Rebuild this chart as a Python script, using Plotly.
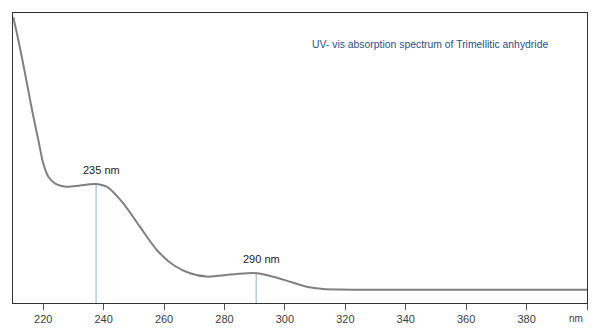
import plotly.graph_objects as go

# Data (wavelength in nm, absorbance arb. units)
wavelength = [210.1, 212.0, 214.2, 216.3, 218.6, 220.0, 221.7, 223.9, 226.1, 228.0,
              232.2, 237.1, 241.0, 246.5, 252.0, 257.6, 263.1, 268.6, 274.1, 278.5,
              284.0, 290.7, 296.2, 301.7, 307.2, 312.7, 318.0, 324.9, 340.0,
              360.0, 380.0, 400.0]
absorbance = [2.857, 2.597, 2.263, 1.930, 1.597, 1.397, 1.263, 1.197, 1.170, 1.163,
              1.175, 1.190, 1.163, 0.997, 0.763, 0.530, 0.380, 0.297, 0.264, 0.274,
              0.290, 0.298, 0.263, 0.213, 0.163, 0.140, 0.135, 0.133, 0.132,
              0.132, 0.132, 0.132]

peak_positions = [237.5, 290.5]
peak_heights = [1.19, 0.298]
peak_labels = ["235 nm", "290 nm"]

tick_values = [220, 240, 260, 280, 300, 320, 340, 360, 380, 400]
tick_labels = ["220", "240", "260", "280", "300", "320", "340", "360", "380", ""]

title_text = "UV- vis absorption spectrum of Trimellitic anhydride"
unit_text = "nm"

fig = go.Figure()

for xp, yp in zip(peak_positions, peak_heights):
    fig.add_trace(go.Scatter(x=[xp, xp], y=[0, yp], mode="lines",
                             line=dict(color="#9dbfe6", width=1.2),
                             hoverinfo="skip", showlegend=False))

fig.add_trace(go.Scatter(x=wavelength, y=absorbance, mode="lines",
                         line=dict(color="#808080", width=2, shape="spline", smoothing=0.8),
                         showlegend=False))

for xp, yp, lab in zip(peak_positions, peak_heights, peak_labels):
    fig.add_annotation(x=xp, y=yp, text=lab, showarrow=False,
                       xanchor="center", yanchor="bottom", xshift=5, yshift=6,
                       font=dict(family="Liberation Sans, Arial", size=11, color="#222222"))

fig.add_annotation(x=0.726, y=0.893, xref="paper", yref="paper", text=title_text,
                   showarrow=False, xanchor="center", yanchor="middle",
                   font=dict(family="Liberation Sans, Arial", size=10.4, color="#2a4f8a"))

fig.add_annotation(x=1.0, y=0, xref="paper", yref="paper", text=unit_text, showarrow=False,
                   xanchor="right", yanchor="top", xshift=-2, yshift=-8,
                   font=dict(family="Liberation Sans, Arial", size=10, color="#404040"))

fig.update_layout(
    width=600, height=331,
    margin=dict(l=13, r=13, t=13, b=28),
    paper_bgcolor="white", plot_bgcolor="white",
    xaxis=dict(range=[210, 400], tickvals=tick_values, ticktext=tick_labels,
               showgrid=False, zeroline=False, showline=True, linecolor="#333333",
               linewidth=1, mirror=True, ticks="outside", ticklen=6, tickcolor="#555555",
               automargin=False,
               tickfont=dict(family="Liberation Sans, Arial", size=11, color="#404040")),
    yaxis=dict(range=[0, 2.9], showticklabels=False, showgrid=False, zeroline=False,
               showline=True, linecolor="#333333", linewidth=1, mirror=True, ticks="",
               automargin=False),
)

fig.write_html("out.html")
